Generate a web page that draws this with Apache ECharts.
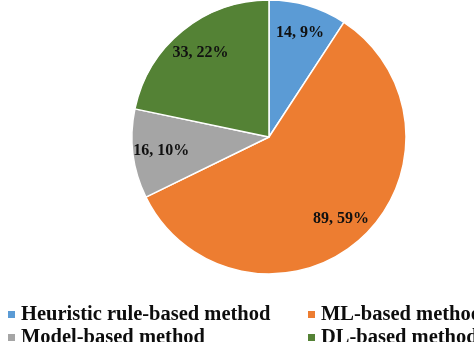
<!DOCTYPE html>
<html>
<head>
<meta charset="utf-8">
<script src="https://cdn.jsdelivr.net/npm/echarts@6/dist/echarts.min.js"></script>
<style>
html,body{margin:0;padding:0;background:#fff;}
#chart{width:474px;height:342px;}
</style>
</head>
<body>
<div id="chart"></div>
<script>
const categories = ['Heuristic rule-based method', 'ML-based method', 'Model-based method', 'DL-based method'];
const counts = [14, 89, 16, 33];
const legendCol1 = ['Heuristic rule-based method', 'Model-based method'];
const legendCol2 = ['ML-based method', 'DL-based method'];

const palette = ['#5B9BD5', '#ED7D31', '#A5A5A5', '#548235'];
const CX = 269, CY = 137, R = 137;
const fontFam = "'Liberation Serif', 'Times New Roman', serif";

const chart = echarts.init(document.getElementById('chart'), null, {renderer: 'canvas'});
const legendBase = {
  type: 'plain',
  orient: 'vertical',
  top: 299,
  height: 80,
  itemWidth: 9,
  itemHeight: 9,
  itemGap: 2,
  icon: 'rect',
  selectedMode: false,
  textStyle: {fontFamily: fontFam, fontWeight: 'bold', fontSize: 20.5, lineHeight: 21, color: '#0d0d0d', padding: [0, 0, 0, 0]}
};
chart.setOption({
  animation: false,
  color: palette,
  legend: [
    Object.assign({}, legendBase, {left: 1, width: 290, data: legendCol1}),
    Object.assign({}, legendBase, {left: 301, width: 250, data: legendCol2})
  ],
  series: [{
    type: 'pie',
    center: [CX, CY],
    radius: R,
    startAngle: 90,
    clockwise: true,
    percentPrecision: 0,
    data: categories.map((c, i) => ({name: c, value: counts[i]})),
    itemStyle: {borderColor: '#ffffff', borderWidth: 1.5},
    emphasis: {disabled: true},
    label: {
      show: true,
      position: 'inside',
      fontFamily: fontFam,
      fontWeight: 'bold',
      fontSize: 16,
      color: '#111111',
      formatter: p => p.value + ', ' + p.percent + '%'
    },
    labelLine: {show: false},
    labelLayout: function (p) {
      const r = p.labelRect;
      const lx = r.x + r.width / 2, ly = r.y + r.height / 2;
      const k = 0.52;
      return {dx: (lx - CX) * k, dy: (ly - CY) * k};
    }
  }]
});
</script>
</body>
</html>
